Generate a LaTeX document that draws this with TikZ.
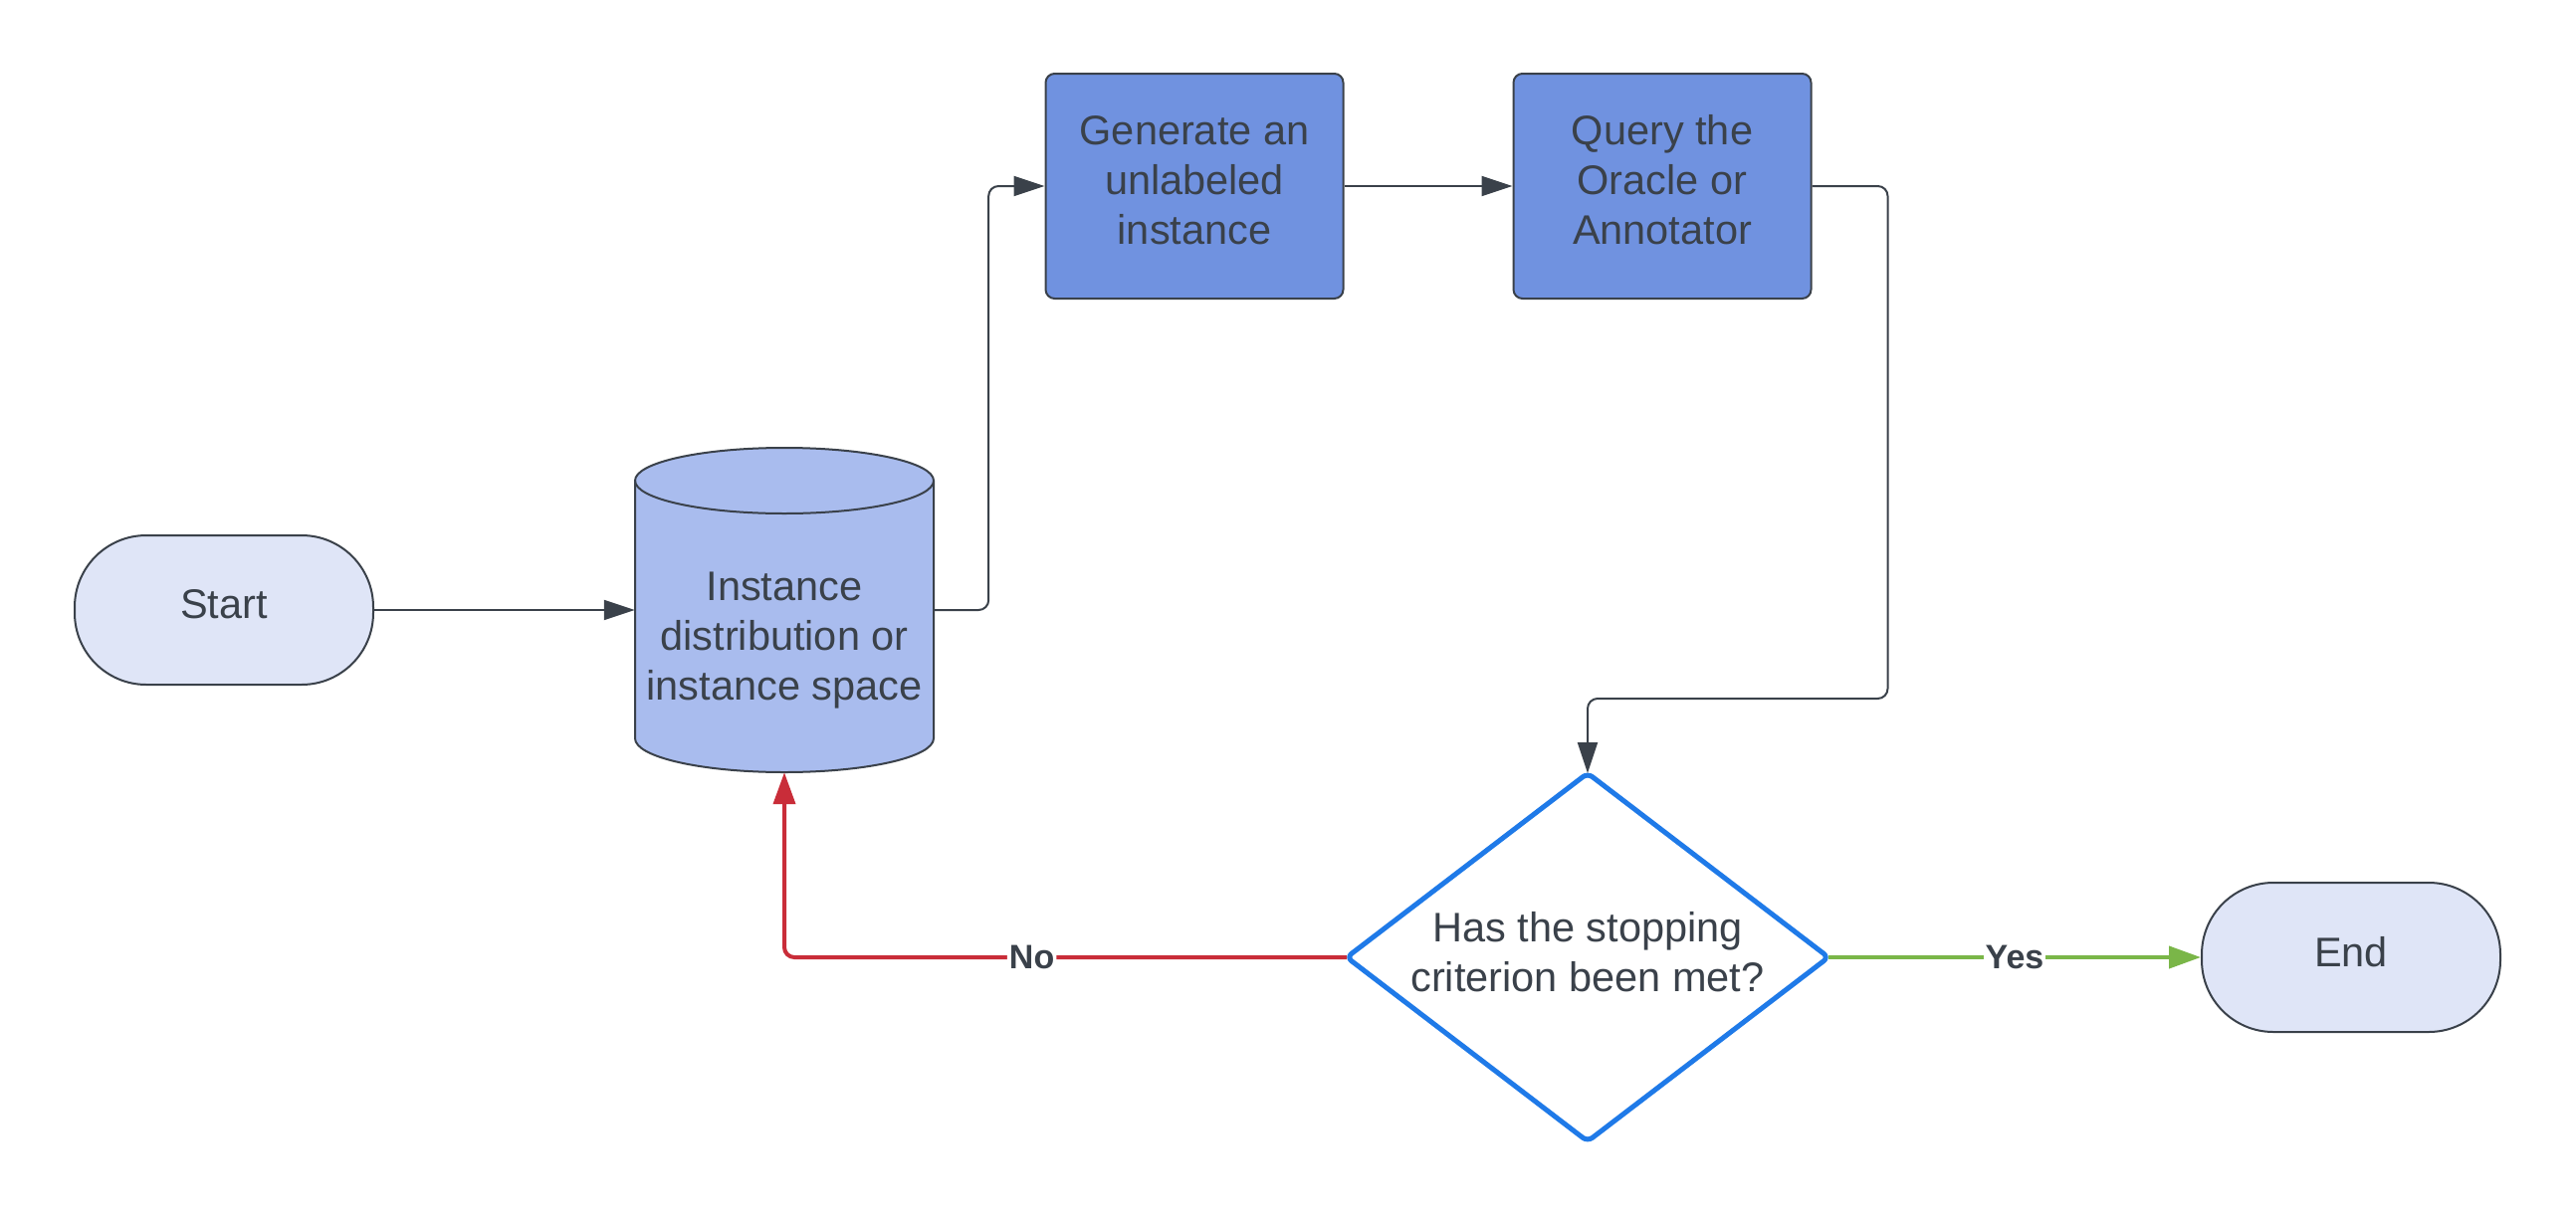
\documentclass[tikz,border=0pt]{standalone}
\usepackage{fontspec}
\setmainfont{Liberation Sans}
\usetikzlibrary{arrows.meta,calc}
\definecolor{termfill}{HTML}{DFE5F7}
\definecolor{cylfill}{HTML}{A9BCEE}
\definecolor{boxfill}{HTML}{7092E0}
\definecolor{ink}{HTML}{3A414A}
\definecolor{nored}{HTML}{C92D39}
\definecolor{yesgreen}{HTML}{7AB648}
\definecolor{diablue}{HTML}{1F7AE8}
\tikzset{
  txt/.style={text=ink, align=center, font=\fontsize{41.5}{50}\selectfont, inner sep=0pt},
  shapebase/.style={inner sep=0pt},
  term/.style={shapebase, draw=ink, line width=2pt, fill=termfill, minimum width=300pt, minimum height=150pt, rounded corners=72pt},
  procbox/.style={shapebase, draw=ink, line width=2pt, fill=boxfill, minimum width=299pt, minimum height=226pt, rounded corners=9pt},
  conn/.style={draw=ink, line width=2pt, -{Triangle[length=31pt,width=20pt]}, rounded corners=10pt},
  noconn/.style={draw=nored, line width=4pt, -{Triangle[length=32pt,width=22pt]}, rounded corners=10pt},
  yesconn/.style={draw=yesgreen, line width=4pt, -{Triangle[length=32pt,width=22pt]}},
  lbl/.style={text=ink, font=\fontsize{34}{38}\selectfont\bfseries, fill=white, inner sep=2pt}
}
\begin{document}
\begin{tikzpicture}[x=1pt, y=-1pt]
\useasboundingbox (0,0) rectangle (2588,1226);
% cylinder
\path[fill=cylfill, draw=ink, line width=2pt]
  (638,483) -- (638,742) arc[start angle=180, end angle=360, x radius=150pt, y radius=34pt]
  -- (938,483) arc[start angle=0, end angle=180, x radius=150pt, y radius=33pt] -- cycle;
\draw[ink, line width=2pt] (638,483) arc[start angle=180, end angle=360, x radius=150pt, y radius=33pt];
\node[shapebase, minimum width=300pt, minimum height=326pt] (db) at (788,613) {};
\node[txt] (dbT) at (788,644) {Instance\\distribution or\\instance space};

\node[term] (start) at (225,613) {};
\node[txt] (startT) at (225,607) {Start};
\node[procbox] (gen) at (1200,187) {};
\node[txt] (genT) at (1200,181) {Generate an\\unlabeled\\instance};
\node[procbox] (qry) at (1670,187) {};
\node[txt] (qryT) at (1670,181) {Query the\\Oracle or\\Annotator};

% decision diamond
\coordinate (diaN) at (1595,777);
\coordinate (diaE) at (1837,962);
\coordinate (diaS) at (1595,1147);
\coordinate (diaW) at (1353,962);
\draw[diablue, fill=white, line width=5pt, rounded corners=6pt, line join=round]
  (diaN) -- (diaE) -- (diaS) -- (diaW) -- cycle;
\node[txt] (diaT) at (1595,957) {Has the stopping\\criterion been met?};

\node[term] (end) at (2362,962) {};
\node[txt] (endT) at (2362,957) {End};

\draw[conn] (start.east) -- (db.west);
\draw[conn] (db.east) -- ++(55,0) |- (gen.west);
\draw[conn] (gen.east) -- (qry.west);
\draw[conn] (qry.east) -- ++(76,0) -- ++(0,515) -| (diaN);
\draw[noconn] (diaW) -| node[lbl, pos=0.28] (noL) {No} (db.south);
\draw[yesconn] (diaE) -- node[lbl, pos=0.5] (yesL) {Yes} (end.west);
\end{tikzpicture}
\end{document}
